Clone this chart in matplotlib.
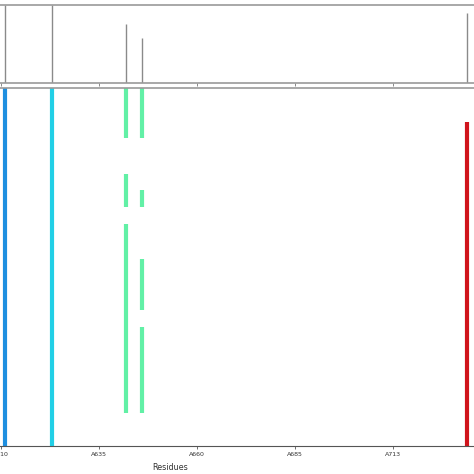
import matplotlib
matplotlib.use("Agg")
import matplotlib.pyplot as plt


# -----------------------------
# DATA
# -----------------------------
# residue positions (index along the sequence axis)
residues = [1, 13, 32, 36, 119]
# fraction of the trajectory each residue is in contact
occupancy = [1.0, 1.0, 0.76, 0.58, 0.90]
# contact intervals (percent of trajectory) per residue
segments = [
    [(0, 100)],
    [(0, 100)],
    [(9.2, 62.0), (66.8, 76.0), (86.0, 100)],
    [(9.2, 33.2), (38.0, 52.2), (66.8, 71.5), (86.0, 100)],
    [(0, 90.5)],
]
tick_pos = [0, 25, 50, 75, 100]
tick_labels = ["A610", "A635", "A660", "A685", "A713"]

colors = ["#1e8fe0", "#22cfe6", "#62f0a6", "#62f0a6", "#d0141c"]


def draw():
    fig = plt.figure(figsize=(4.74, 4.74), dpi=100)
    ax_top = fig.add_axes([0.0, 0.8249, 1.0, 0.1646])
    ax = fig.add_axes([0.0, 0.0591, 1.0, 0.7553])

    xlim = (-0.26, 120.7)

    # top: occupancy stems
    ax_top.vlines(residues, 0, occupancy, color="#8a8a8a", lw=1.0)
    ax_top.set_xlim(*xlim)
    ax_top.set_ylim(0, 1)
    ax_top.set_xticks(tick_pos)
    ax_top.set_xticklabels([])
    ax_top.set_yticks([])
    ax_top.tick_params(axis="x", length=2, width=0.6, color="#777777")
    for side in ["left", "right"]:
        ax_top.spines[side].set_visible(False)
    for side in ["top", "bottom"]:
        ax_top.spines[side].set_color("#999999")
        ax_top.spines[side].set_linewidth(1.2)

    # bottom: contact timeline
    for x, segs, c in zip(residues, segments, colors):
        for y0, y1 in segs:
            ax.vlines(x, y0, y1, color=c, lw=3.0)
    ax.set_xlim(*xlim)
    ax.set_ylim(0, 100)
    ax.set_yticks([])
    ax.set_xticks(tick_pos)
    ax.set_xticklabels(tick_labels, fontsize=4.5, color="#333333")
    ax.tick_params(axis="x", length=2.5, width=0.6, pad=2, color="#555555")
    for side in ["left", "right"]:
        ax.spines[side].set_visible(False)
    ax.spines["top"].set_color("#999999")
    ax.spines["top"].set_linewidth(1.2)
    ax.spines["bottom"].set_color("#555555")
    ax.spines["bottom"].set_linewidth(0.8)

    ax.set_xlabel("Residues", fontsize=5.8, color="#333333")
    ax.xaxis.set_label_coords(0.359, -0.048)

    fig.savefig("out.png", dpi=100)


if __name__ == "__main__":
    draw()
